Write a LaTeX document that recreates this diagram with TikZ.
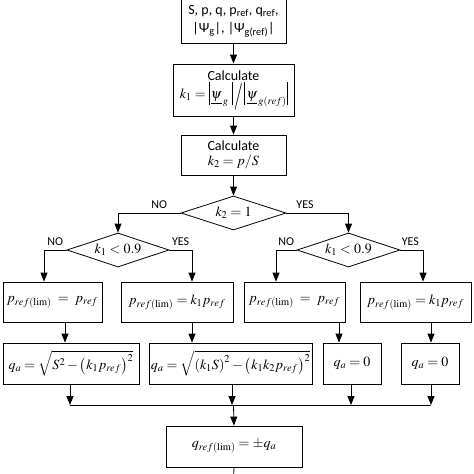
\documentclass[tikz,border=0pt]{standalone}
\usepackage{mathptmx}
\usepackage[no-math]{fontspec}
\setmainfont{Carlito}
\usetikzlibrary{shapes.geometric,arrows.meta}

\newcommand{\absbar}{\rule[-7pt]{0.6pt}{23pt}}
\newcommand{\bigslash}{\raisebox{-5pt}{\scalebox{1.3}[1.9]{$/$}}}

\tikzset{
  box/.style={draw, line width=0.8pt, inner sep=0pt, align=center, font=\fontsize{14}{18}\selectfont},
  test/.style={draw, diamond, aspect=3, inner sep=0pt, line width=0.8pt, font=\fontsize{14}{18}\selectfont},
  arr/.style={-{Triangle[length=9pt,width=7pt]}, line width=0.8pt},
  lbl/.style={font=\fontsize{12}{12}\selectfont, inner sep=0pt}
}

\begin{document}
\begin{tikzpicture}[x=1pt,y=-1pt]
\useasboundingbox (0,0) rectangle (474,474);

% column positions of the connectors
\coordinate (xA)  at (44,0);
\coordinate (xA2) at (65,0);
\coordinate (xB)  at (192,0);
\coordinate (xC)  at (276,0);
\coordinate (xC2) at (339,0);
\coordinate (xD)  at (423,0);
\coordinate (xD2) at (431,0);
\coordinate (xE)  at (70,0);
\coordinate (xF)  at (232,0);
\coordinate (xG)  at (351,0);
\coordinate (mL)  at (70,405);
\coordinate (mR)  at (431,405);
\coordinate (mM)  at (233.5,405);
\coordinate (out) at (233.5,480);

\node[box, minimum width=105, minimum height=44] (inp) at (233.5,21)
  {S, p, q, p\textsubscript{ref}, q\textsubscript{ref},\\ |Ψ\textsubscript{g}|, |Ψ\textsubscript{g(ref)}|};
\node[box, minimum width=121, minimum height=52] (calc1) at (233.5,90)
  {Calculate\\[0pt] $k_1=\absbar\,\underline{\psi}_{\,g}\;\absbar\,\bigslash\,\absbar\,\underline{\psi}_{\,g(ref)}\absbar$};
\node[box, minimum width=105, minimum height=40] (calc2) at (233.5,155)
  {Calculate\\[-3pt] $k_2=p/S$};

\node[test, minimum width=105, minimum height=34] (t1) at (233.5,213) {$k_2=1$};
\node[test, minimum width=102, minimum height=34] (t2) at (118,250) {$k_1<0.9$};
\node[test, minimum width=103, minimum height=34] (t3) at (348.5,250) {$k_1<0.9$};

\node[box, minimum width=99,  minimum height=40] (pA) at (52.5,302)  {$p_{ref(\lim)}\;=\;p_{ref}$};
\node[box, minimum width=112, minimum height=40] (pB) at (177,302)   {$p_{ref(\lim)}=k_1p_{ref}$};
\node[box, minimum width=101, minimum height=40] (pC) at (294.5,302) {$p_{ref(\lim)}\;=\;p_{ref}$};
\node[box, minimum width=111, minimum height=40] (pD) at (415.5,302) {$p_{ref(\lim)}=k_1p_{ref}$};

\node[box, minimum width=136, minimum height=41] (qE) at (71,363.5)    {$q_a=\sqrt{S^2-\left(k_1p_{ref}\right)^2}$};
\node[box, minimum width=163, minimum height=41] (qF) at (230.5,363.5) {$q_a=\sqrt{\left(k_1S\right)^2-\left(k_1k_2p_{ref}\right)^2}$};
\node[box, minimum width=58,  minimum height=41] (qG) at (352,363.5)   {$q_a=0$};
\node[box, minimum width=58,  minimum height=41] (qH) at (430,363.5)   {$q_a=0$};

\node[box, minimum width=136, minimum height=41] (lim) at (234,446.5) {$q_{ref(\lim)}=\pm q_a$};

\draw[arr] (inp.south) -- (calc1.north);
\draw[arr] (calc1.south) -- (calc2.north);
\draw[arr] (calc2.south) -- (t1.north);

\draw[arr] (t1.west) -| (t2.north) node[lbl, pos=0.17, above=4pt] {NO};
\draw[arr] (t1.east) -| (t3.north) node[lbl, pos=0.15, above=4pt] {YES};
\draw[arr] (t2.west) -| (pA.north -| xA) node[lbl, pos=0.25, above=4pt] {NO};
\draw[arr] (t2.east) -| (pB.north -| xB) node[lbl, pos=0.25, above=4pt] {YES};
\draw[arr] (t3.west) -| (pC.north -| xC) node[lbl, pos=0.25, above=4pt] {NO};
\draw[arr] (t3.east) -| (pD.north -| xD) node[lbl, pos=0.22, above=4pt] {YES};

\draw[arr] (pA.south -| xA2) -- (qE.north -| xA2);
\draw[arr] (pB.south -| xB)  -- (qF.north -| xB);
\draw[arr] (pC.south -| xC2) -- (qG.north -| xC2);
\draw[arr] (pD.south -| xD2) -- (qH.north -| xD2);

\draw[arr] (qE.south -| xE)  -- (mL);
\draw[arr] (qF.south -| xF)  -- (mM -| xF);
\draw[arr] (qG.south -| xG)  -- (mM -| xG);
\draw[arr] (qH.south -| xD2) -- (mR);
\draw[line width=0.8pt] (mL) -- (mR);
\draw[arr] (mM) -- (lim.north);
\draw[line width=0.8pt] (lim.south) -- (out);

\end{tikzpicture}
\end{document}
